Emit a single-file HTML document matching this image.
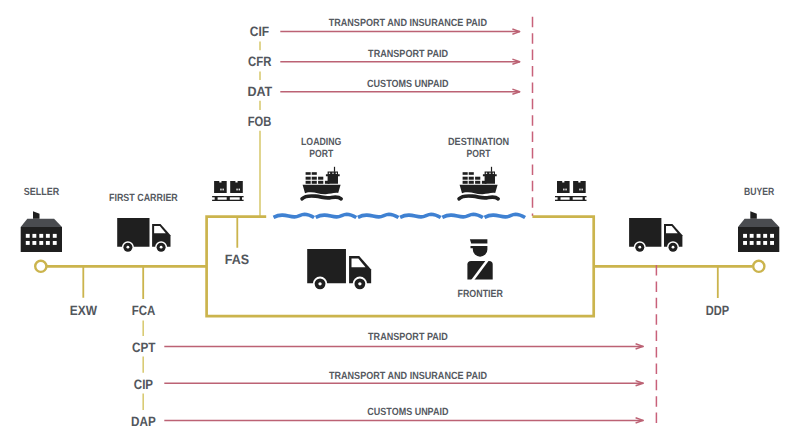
<!DOCTYPE html>
<html><head><meta charset="utf-8">
<style>
html,body{margin:0;padding:0;background:#fff;width:800px;height:444px;overflow:hidden}
svg{display:block}
text{font-family:"Liberation Sans",sans-serif;font-weight:bold;text-rendering:geometricPrecision}
.code{font-size:13.6px;fill:#52565c}
.lab{font-size:10.4px;fill:#55595f}
.y{stroke:#cbb44d;fill:none}
.r{stroke:#bc6274;fill:none;stroke-width:1.5}
.d{stroke:#c8617a;fill:none;stroke-width:1.5;stroke-dasharray:10.5 5.9}
.k{fill:#1f1f1f}
</style></head>
<body>
<svg width="800" height="444" viewBox="0 0 800 444">
<defs>
  <g id="truck">
    <!-- unit truck, origin at cargo top-left, size ~53x34 -->
    <path class="k" d="M0,0H32.3V28.6H0Z"/>
    <path class="k" d="M34.9,6H43.3L53.3,17.2V28.6H34.9Z"/>
    <path fill="#fff" d="M36.9,7.9H42.6L48.6,15.2H36.9Z"/>
    <circle cx="10.7" cy="29.1" r="6" fill="#fff"/>
    <circle cx="43.9" cy="29.1" r="6" fill="#fff"/>
    <circle cx="10.7" cy="29.1" r="4.5" class="k"/>
    <circle cx="43.9" cy="29.1" r="4.5" class="k"/>
    <circle cx="10.7" cy="29.1" r="1.4" fill="#fff"/>
    <circle cx="43.9" cy="29.1" r="1.4" fill="#fff"/>
  </g>
  <g id="ship">
    <!-- origin at hull left top -->
    <path class="k" d="M0,0H38L35.6,8.2C31,7.6 28,9.3 23,9.4C17,9.6 13,7.3 8,7.4C5,7.4 3.5,8 2.4,8.5Z"/>
    <rect class="k" x="3" y="-12.6" width="5.1" height="2.6"/>
    <rect class="k" x="9.1" y="-12.6" width="5.1" height="2.6"/>
    <rect class="k" x="3" y="-8.1" width="5.1" height="3"/>
    <rect class="k" x="9.1" y="-8.1" width="5.1" height="3"/>
    <rect class="k" x="15.5" y="-8.1" width="5.2" height="3"/>
    <rect class="k" x="3" y="-4" width="5.1" height="3"/>
    <rect class="k" x="9.1" y="-4" width="5.1" height="3"/>
    <rect class="k" x="15.5" y="-4" width="5.2" height="3"/>
    <rect class="k" x="22.3" y="-4" width="4.6" height="3"/>
    <path class="k" d="M25,-13.4H35.4V-10.5H37.1V-8.6H35.4V-1H25V-8.6H23.3V-10.5H25Z"/>
    <rect class="k" x="31.3" y="-18" width="1.2" height="5"/>
    <circle fill="#fff" cx="26.9" cy="-11.5" r="0.75"/>
    <circle fill="#fff" cx="30.4" cy="-11.5" r="0.75"/>
    <circle fill="#fff" cx="33.7" cy="-11.5" r="0.75"/>
    <path d="M-0.5,14C2,11.4 7,10.8 13,11.4C19,12 22,13.6 27,13C31,12.4 35,11 38.5,14" stroke="#1f1f1f" stroke-width="3.7" fill="none" stroke-linecap="round"/>
  </g>
  <g id="pallet">
    <path class="k" d="M0,0H5.2V1.4H7.4V0H12.6V11.9H0Z"/>
    <path class="k" d="M16.1,0H21.3V1.4H23.5V0H28.7V11.9H16.1Z"/>
    <g fill="#fff"><rect x="6.2" y="7.6" width="1.3" height="1.8"/><rect x="8.4" y="7.6" width="1.3" height="1.8"/>
    <rect x="22.3" y="7.6" width="1.3" height="1.8"/><rect x="24.5" y="7.6" width="1.3" height="1.8"/></g>
    <rect class="k" x="-2" y="15" width="31.5" height="1.3"/>
    <rect class="k" x="-2" y="18.7" width="31.5" height="1.3"/>
    <rect class="k" x="0.6" y="15" width="2.9" height="5"/>
    <rect class="k" x="12.6" y="15" width="3.1" height="5"/>
    <rect class="k" x="25.6" y="15" width="2.3" height="5"/>
  </g>
  <g id="building">
    <!-- origin at body top-left (x=20.7,y=227) -->
    <path class="k" d="M0,0H41.3V25H0Z"/>
    <path fill="#4a4c50" d="M6.6,-8.3H33.4L41.3,0H0Z"/>
    <path class="k" d="M12.3,-15.8L18.8,-13.3V-8.3H12.3Z"/>
    <g fill="#fff">
      <rect x="5.1" y="6.9" width="3.9" height="3.9"/><rect x="11.7" y="6.9" width="3.9" height="3.9"/><rect x="18.6" y="6.9" width="3.9" height="3.9"/><rect x="25.2" y="6.9" width="3.9" height="3.9"/><rect x="32.1" y="6.9" width="3.9" height="3.9"/>
      <rect x="5.1" y="14" width="3.9" height="3.9"/><rect x="11.7" y="14" width="3.9" height="3.9"/><rect x="18.6" y="14" width="3.9" height="3.9"/><rect x="25.2" y="14" width="3.9" height="3.9"/><rect x="32.1" y="14" width="3.9" height="3.9"/>
    </g>
  </g>
  <path id="wave" d="M0,1.3C3,-0.2 6,-1 9,-0.9C14,-0.6 17,1 21,0.9C25,0.8 27,-1.7 31,-1.8C35,-1.8 37.5,-0.4 40.6,1.5"/>
</defs>

<!-- ===== TOP CODE COLUMN ===== -->
<text class="code" x="259.5" y="35.6" text-anchor="middle" textLength="19.3" lengthAdjust="spacingAndGlyphs">CIF</text>
<text class="code" x="259.7" y="65.5" text-anchor="middle" textLength="23.3" lengthAdjust="spacingAndGlyphs">CFR</text>
<text class="code" x="259.8" y="95.6" text-anchor="middle" textLength="24.8" lengthAdjust="spacingAndGlyphs">DAT</text>
<text class="code" x="259.6" y="125.8" text-anchor="middle" textLength="23.6" lengthAdjust="spacingAndGlyphs">FOB</text>
<g stroke="#d9cb74" fill="none" stroke-width="1.6">
  <path d="M260,41.4V50.3M260,71.4V80M260,100.8V109.9M260,130.8V217"/>
</g>

<!-- top arrows -->
<g class="r">
  <path d="M280.3,31.6H520M280.3,61.7H520M280.3,91.7H520"/>
  <path stroke-linejoin="round" d="M512.4,29L519.7,31.6L512.4,34.2M512.4,59.1L519.7,61.7L512.4,64.3M512.4,89.1L519.7,91.7L512.4,94.3"/>
</g>
<text class="lab" x="407.8" y="25.6" text-anchor="middle" textLength="158.3" lengthAdjust="spacingAndGlyphs">TRANSPORT AND INSURANCE PAID</text>
<text class="lab" x="408.1" y="57.1" text-anchor="middle" textLength="80" lengthAdjust="spacingAndGlyphs">TRANSPORT PAID</text>
<text class="lab" x="407.8" y="87.1" text-anchor="middle" textLength="81.5" lengthAdjust="spacingAndGlyphs">CUSTOMS UNPAID</text>

<!-- top dashed -->
<path class="d" d="M532.5,16.8V216"/>

<!-- ===== BOX & MAIN LINE ===== -->
<g class="y" stroke-width="2.7">
  <path d="M266.2,216.7H206.6V316.1H593.7V216.7H532.4"/>
  <path d="M47,266.3H206.6M593.7,266.3H752.6"/>
  <circle cx="40.8" cy="266.3" r="5.6" stroke-width="2.4"/>
  <circle cx="758.8" cy="266.3" r="5.6" stroke-width="2.4"/>
</g>
<g class="y" stroke-width="1.8">
  <path d="M83.3,266.3V297.8M143.2,266.3V299M237.3,216.7V247.7M717.8,266.3V297.9"/>
  <path d="M143.2,320.5V336M143.2,356.6V372.7M143.2,393.6V409.9" stroke="#d9cb74" stroke-width="1.6"/>
</g>

<!-- waves -->
<g stroke="#3f81d2" stroke-width="3.6" fill="none" stroke-linecap="butt">
  <use href="#wave" x="273.5" y="216"/>
  <use href="#wave" x="315.7" y="216"/>
  <use href="#wave" x="357.9" y="216"/>
  <use href="#wave" x="400.1" y="216"/>
  <use href="#wave" x="442.3" y="216"/>
  <use href="#wave" x="484.5" y="216"/>
</g>

<!-- labels -->
<text class="code" x="83.4" y="314.5" text-anchor="middle" textLength="27.2" lengthAdjust="spacingAndGlyphs">EXW</text>
<text class="code" x="143.5" y="314.5" text-anchor="middle" textLength="23.6" lengthAdjust="spacingAndGlyphs">FCA</text>
<text class="code" x="236.9" y="263.8" text-anchor="middle" textLength="24.3" lengthAdjust="spacingAndGlyphs">FAS</text>
<text class="code" x="717.5" y="314.5" text-anchor="middle" textLength="23.4" lengthAdjust="spacingAndGlyphs">DDP</text>
<text class="code" x="143.65" y="351.5" text-anchor="middle" textLength="23.5" lengthAdjust="spacingAndGlyphs">CPT</text>
<text class="code" x="143.45" y="388.9" text-anchor="middle" textLength="19.3" lengthAdjust="spacingAndGlyphs">CIP</text>
<text class="code" x="143.45" y="425.9" text-anchor="middle" textLength="24.7" lengthAdjust="spacingAndGlyphs">DAP</text>

<!-- bottom arrows -->
<g class="r">
  <path d="M164.3,346.4H643.5M164.3,383.2H643.5M164.3,420.4H643.5"/>
  <path stroke-linejoin="round" d="M635.6,343.8L643.1,346.4L635.6,349M635.6,380.6L643.1,383.2L635.6,385.8M635.6,417.8L643.1,420.4L635.6,423"/>
</g>
<text class="lab" x="408" y="340" text-anchor="middle" textLength="79.8" lengthAdjust="spacingAndGlyphs">TRANSPORT PAID</text>
<text class="lab" x="408" y="378.5" text-anchor="middle" textLength="158.1" lengthAdjust="spacingAndGlyphs">TRANSPORT AND INSURANCE PAID</text>
<text class="lab" x="407.9" y="415.4" text-anchor="middle" textLength="81.1" lengthAdjust="spacingAndGlyphs">CUSTOMS UNPAID</text>
<path class="d" d="M656.4,265V423.5"/>

<!-- names -->
<text class="lab" x="41.55" y="194.9" text-anchor="middle" textLength="35.4" lengthAdjust="spacingAndGlyphs">SELLER</text>
<text class="lab" x="143.4" y="201.1" text-anchor="middle" textLength="68.8" lengthAdjust="spacingAndGlyphs">FIRST CARRIER</text>
<text class="lab" x="759.1" y="194.9" text-anchor="middle" textLength="30.3" lengthAdjust="spacingAndGlyphs">BUYER</text>
<text class="lab" x="321.2" y="145" text-anchor="middle" textLength="40.4" lengthAdjust="spacingAndGlyphs">LOADING</text>
<text class="lab" x="321.2" y="157.4" text-anchor="middle" textLength="24" lengthAdjust="spacingAndGlyphs">PORT</text>
<text class="lab" x="478.6" y="144.8" text-anchor="middle" textLength="61.2" lengthAdjust="spacingAndGlyphs">DESTINATION</text>
<text class="lab" x="478.5" y="157" text-anchor="middle" textLength="24" lengthAdjust="spacingAndGlyphs">PORT</text>
<text class="lab" x="480.2" y="296.7" text-anchor="middle" textLength="45.4" lengthAdjust="spacingAndGlyphs">FRONTIER</text>

<!-- icons -->
<use href="#building" x="20.7" y="227"/>
<use href="#building" x="738" y="227"/>
<use href="#truck" x="117.2" y="218.1"/>
<use href="#truck" x="629.1" y="218.1"/>
<use href="#truck" transform="translate(307.2,248.9) scale(1.2)"/>
<use href="#ship" x="302.6" y="184.8"/>
<use href="#ship" x="459.6" y="184.8"/>
<use href="#pallet" x="214.1" y="181"/>
<use href="#pallet" x="557" y="181"/>

<!-- guard -->
<g class="k">
  <path d="M469.9,239.3H487.4V243.6H471.2Z"/>
  <path d="M470.5,246.1H487.4V249.4A7.3,7.3 0 0 1 472.8,249.4V248.2H470.5Z"/>
  <path d="M467.4,279.5V264.5A3.6,3.6 0 0 1 471,260.9H489.1A3.6,3.6 0 0 1 492.7,264.5V279.5Z"/>
</g>
<path d="M488,259.5L472,281" stroke="#fff" stroke-width="2.6"/>
</svg>
</body></html>
